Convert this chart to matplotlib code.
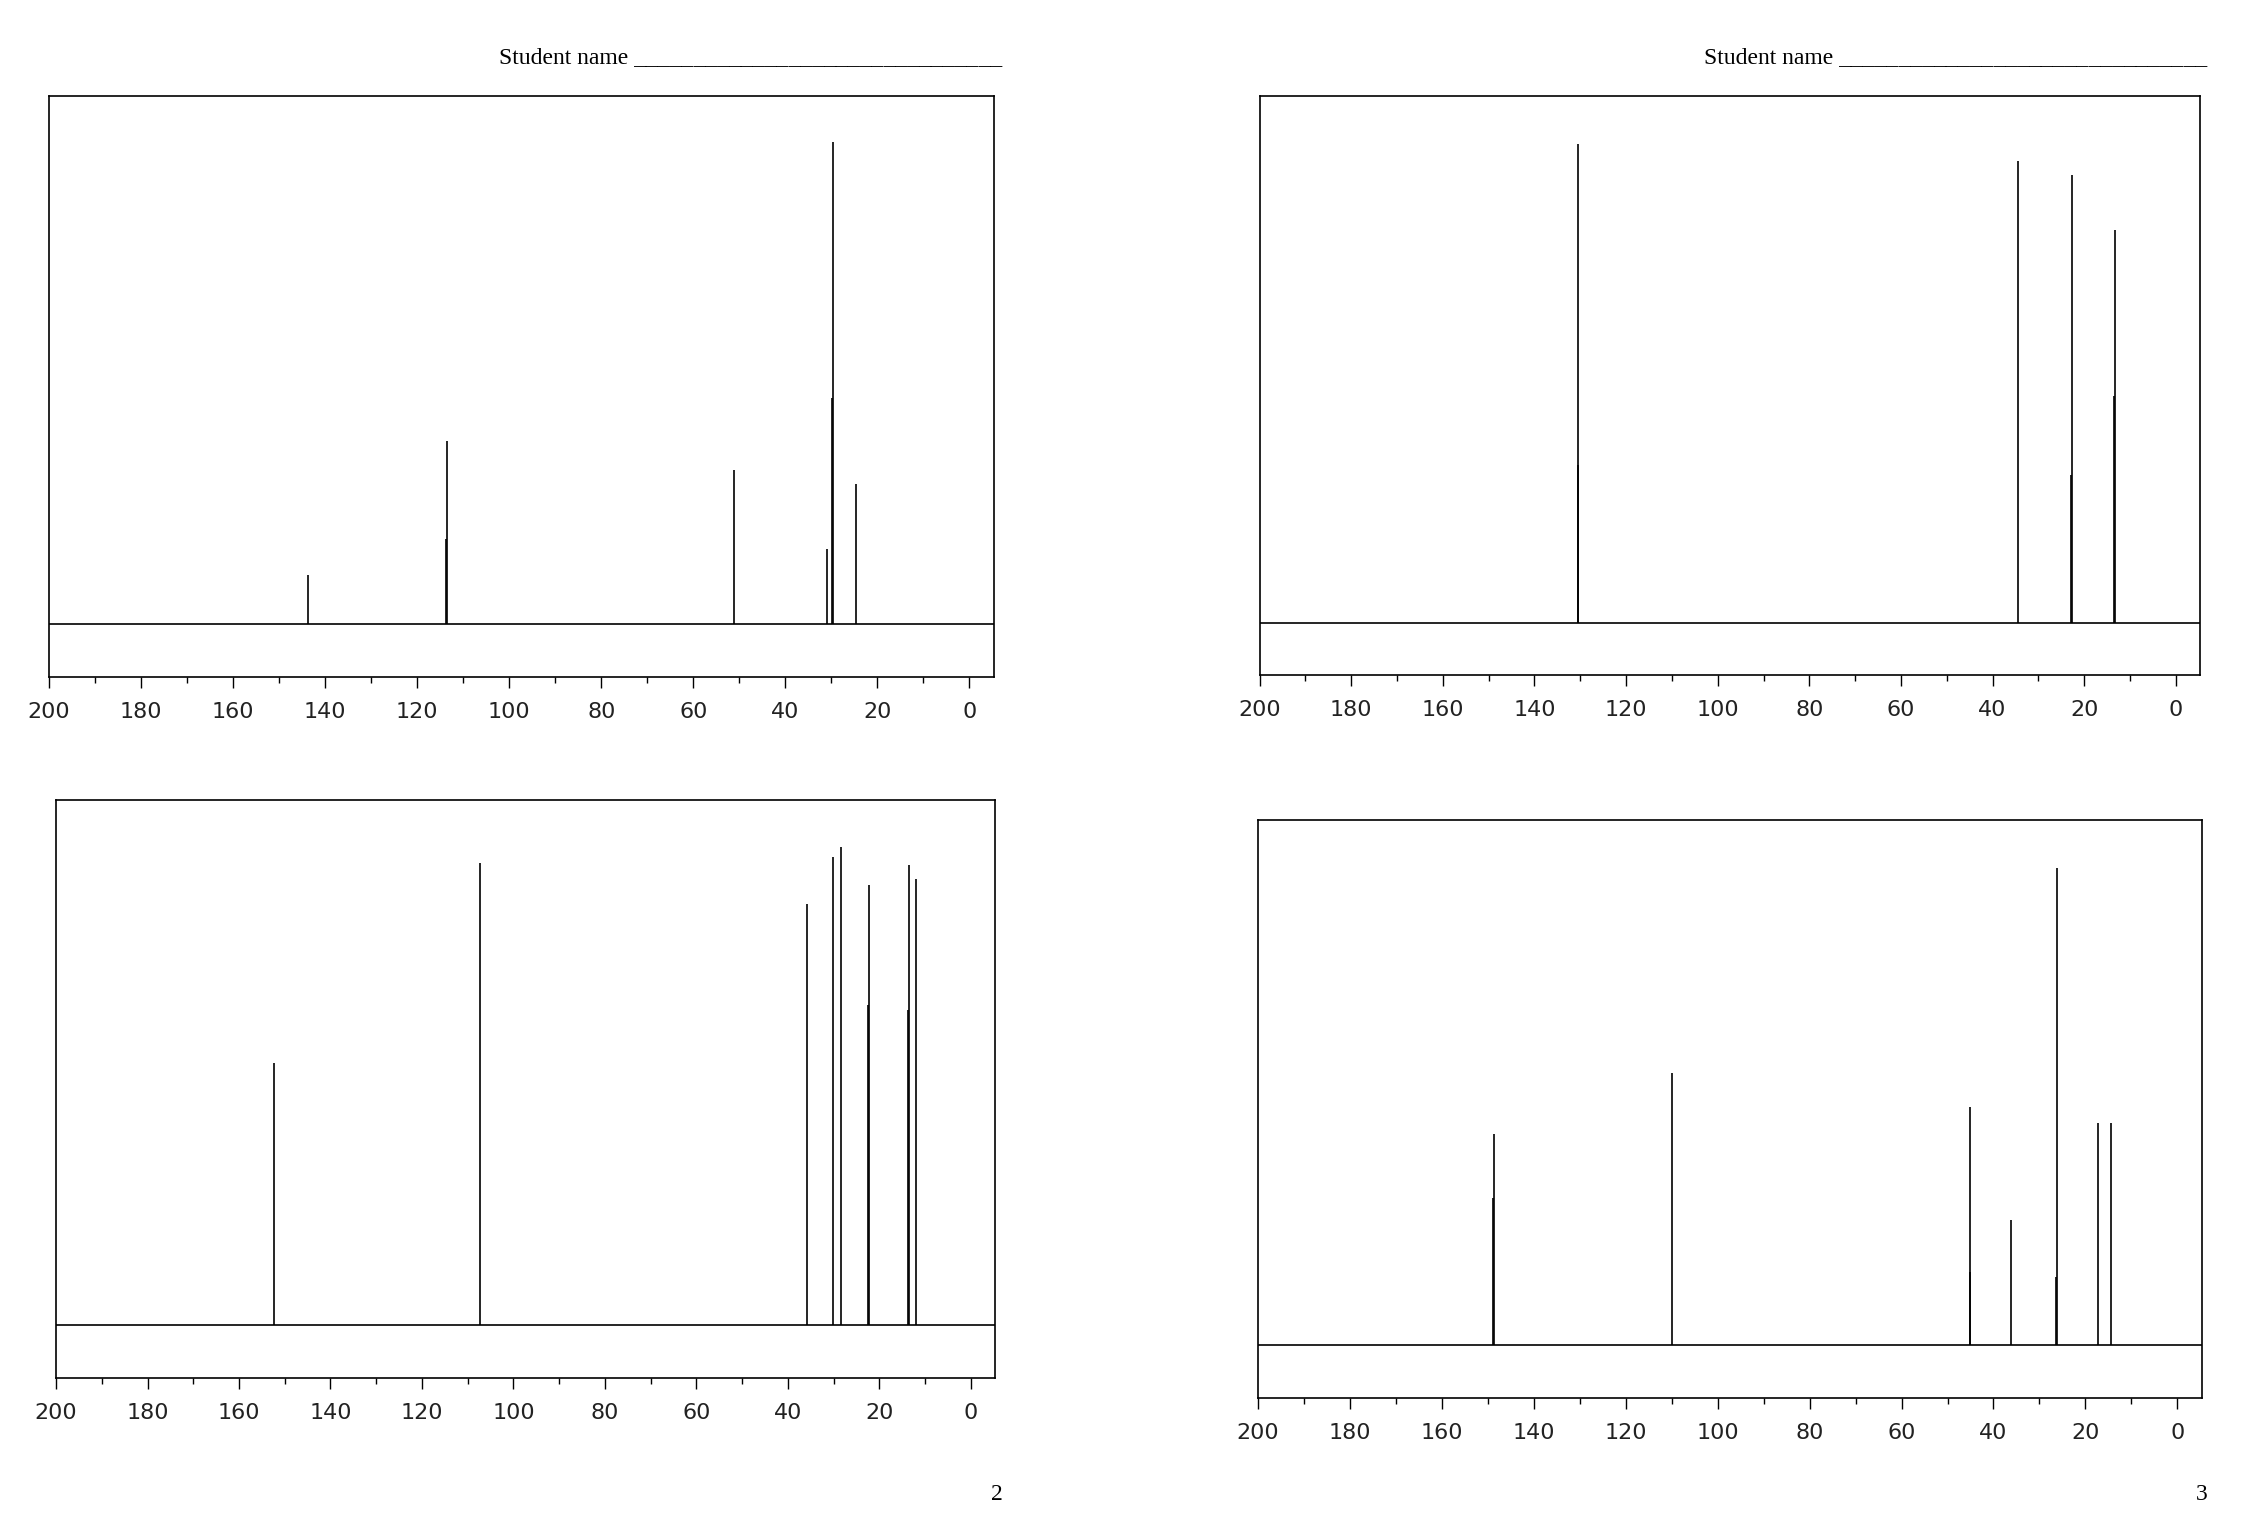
import matplotlib
matplotlib.use("Agg")
import matplotlib.pyplot as plt
from matplotlib.ticker import MultipleLocator

# spectra: (ppm positions, relative heights)
p1_ppm = [143.8, 113.8, 113.6, 51.2, 30.9, 29.8, 29.6, 24.6]
p1_h   = [0.093, 0.16, 0.347, 0.292, 0.142, 0.428, 0.913, 0.265]
p2_ppm = [130.6, 130.4, 34.5, 22.8, 22.6, 13.4, 13.2]
p2_h   = [0.30, 0.91, 0.877, 0.28, 0.85, 0.43, 0.746]
p3_ppm = [152.4, 107.4, 35.8, 30.1, 28.3, 22.5, 22.3, 13.7, 13.5, 12.0]
p3_h   = [0.499, 0.88, 0.803, 0.891, 0.91, 0.61, 0.839, 0.60, 0.877, 0.849]
p4_ppm = [148.9, 148.75, 110.0, 45.1, 45.0, 36.25, 26.4, 26.25, 17.2, 14.4]
p4_h   = [0.28, 0.403, 0.518, 0.14, 0.453, 0.239, 0.13, 0.91, 0.423, 0.423]

xticks = [200, 180, 160, 140, 120, 100, 80, 60, 40, 20, 0]

W, H = 1568, 1065
boxes = [  # left, right, top, bottom in px of displayed ref
    (34, 692, 67, 471), (877, 1532, 67, 470),
    (39, 693, 557, 959), (876, 1533, 571, 973)]
zero_px = [675, 1515, 676, 1516]
data = [(p1_ppm, p1_h), (p2_ppm, p2_h), (p3_ppm, p3_h), (p4_ppm, p4_h)]

fig = plt.figure(figsize=(22.52, 15.30), dpi=100)
for (l, r, t, b), z, (ppm, h) in zip(boxes, zero_px, data):
    ax = fig.add_axes([l / W, 1 - b / H, (r - l) / W, (b - t) / H])
    scale = (z - l) / 200.0
    xmin = -(r - z) / scale
    ax.set_xlim(200, xmin)
    ax.set_ylim(-0.1, 1.0)
    ax.axhline(0, color="black", lw=1.2)
    ax.vlines(ppm, 0, h, color="black", lw=1.2)
    ax.set_yticks([])
    ax.set_xticks(xticks)
    ax.xaxis.set_minor_locator(MultipleLocator(10))
    ax.tick_params(axis="x", which="major", length=8, width=1, labelsize=16,
                   pad=10, labelcolor="#222222")
    ax.tick_params(axis="x", which="minor", length=4, width=1)
    for s in ax.spines.values():
        s.set_linewidth(1.2)

serif = ["Liberation Serif", "DejaVu Serif"]
name = "Student name " + "_" * 31
fig.text(698 / W, 1 - 40 / H, name, ha="right", va="center", fontsize=17, family=serif)
fig.text(1537 / W, 1 - 40 / H, name, ha="right", va="center", fontsize=17, family=serif)
fig.text(694 / W, 1 - 1040 / H, "2", ha="center", va="center", fontsize=17, family=serif)
fig.text(1533 / W, 1 - 1040 / H, "3", ha="center", va="center", fontsize=17, family=serif)

fig.savefig("out.png", dpi=100, facecolor="white")
